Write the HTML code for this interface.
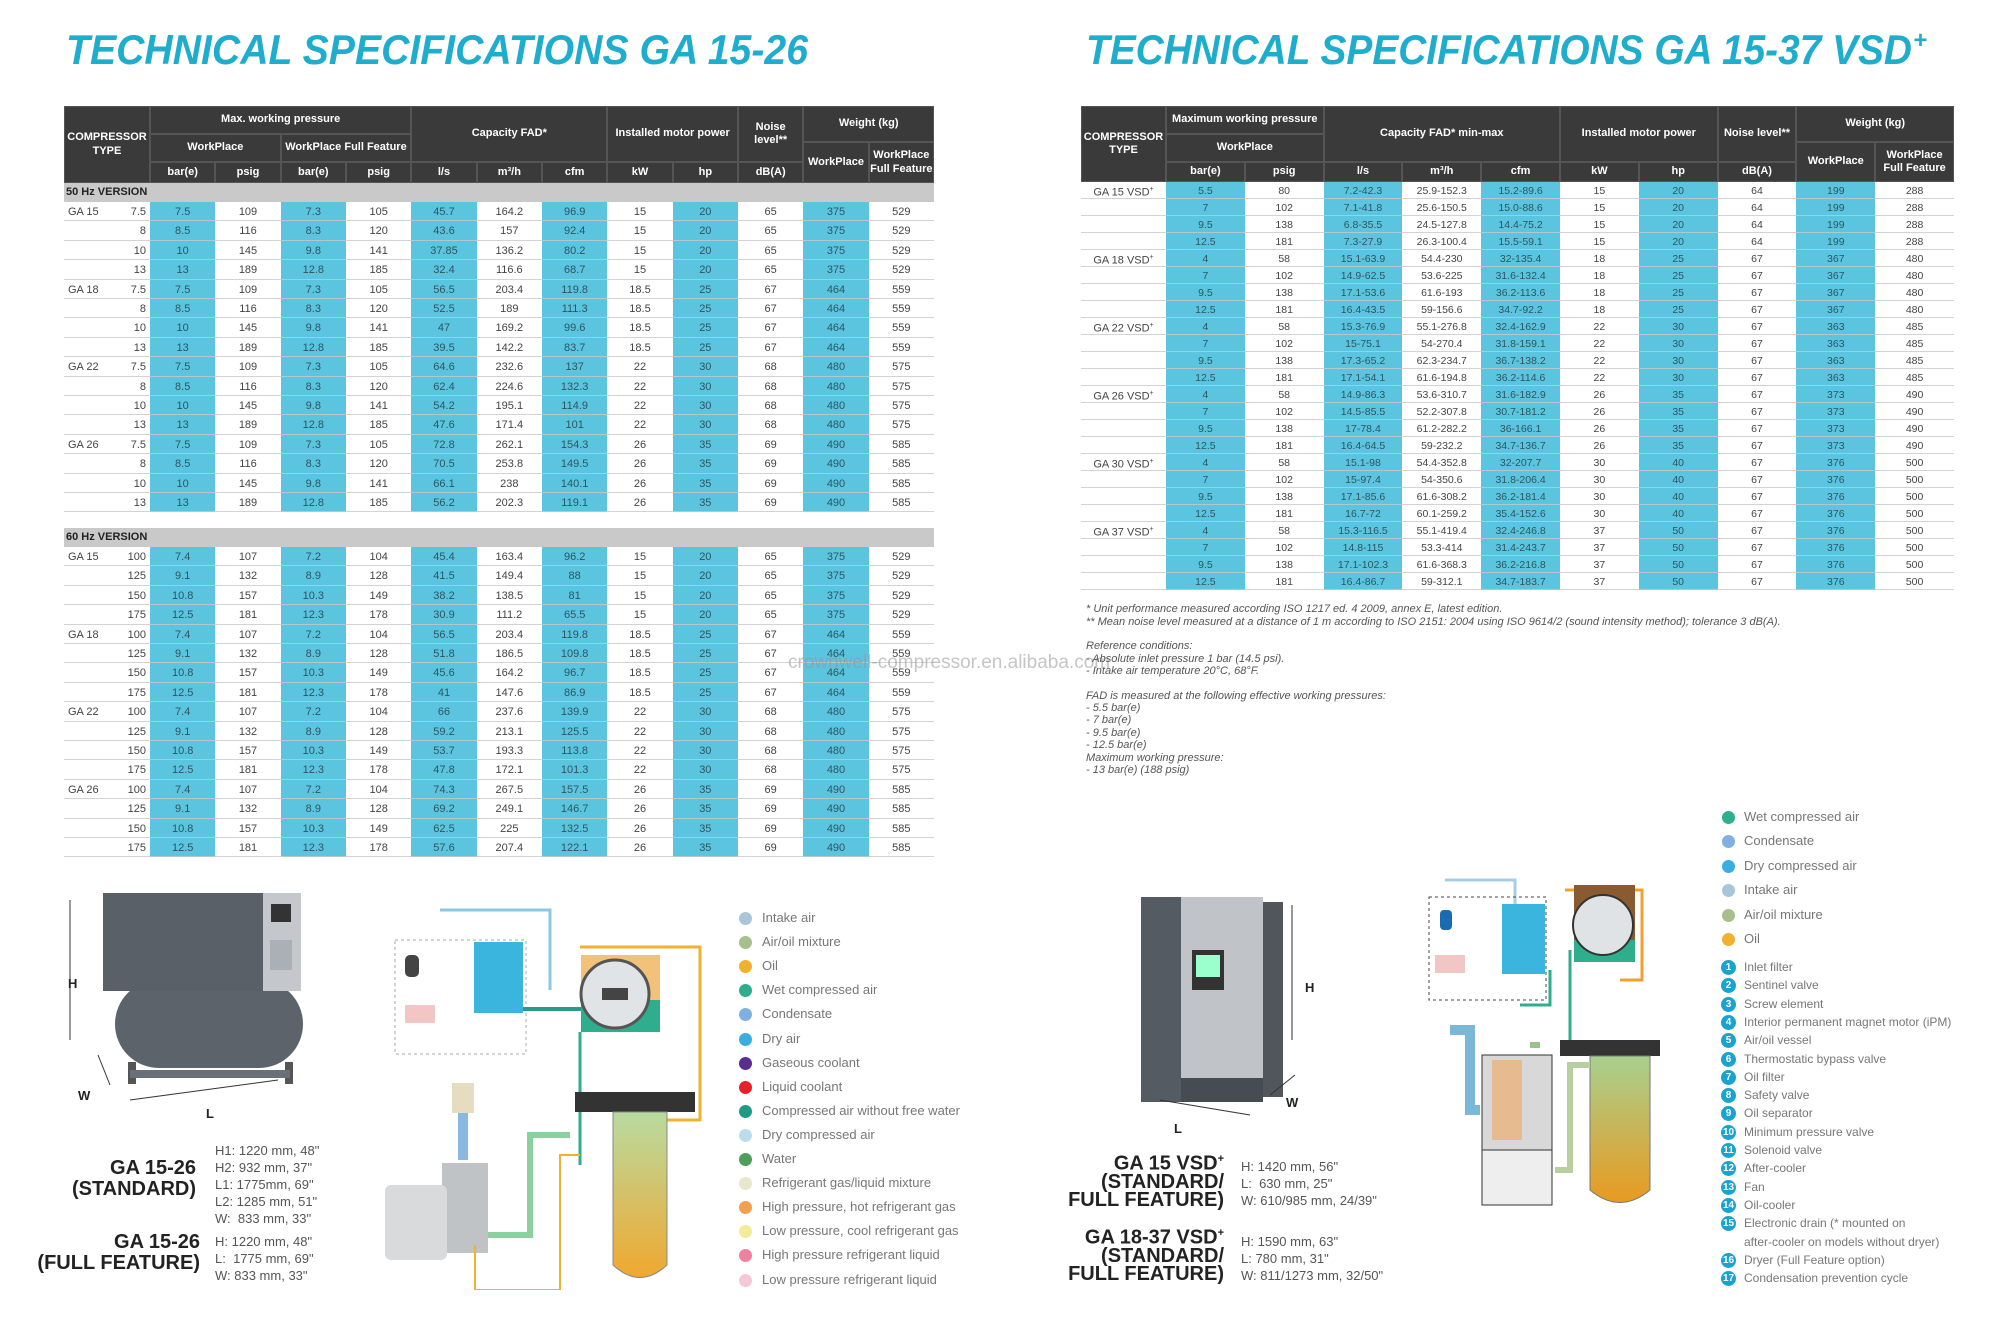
<!DOCTYPE html>
<html><head><meta charset="utf-8">
<style>
body{margin:0;background:#fff;}
#page{position:relative;width:2000px;height:1320px;overflow:hidden;background:#fff;font-family:"Liberation Sans",sans-serif;}
.a{position:absolute;}
.c{position:absolute;font-size:11px;color:#444;text-align:center;white-space:nowrap;line-height:1;}
.h{position:absolute;color:#fff;font-weight:bold;font-size:11px;text-align:center;display:flex;align-items:center;justify-content:center;line-height:1.2;box-sizing:border-box;}
.fn{position:absolute;left:1086px;font-size:11px;font-style:italic;color:#555;white-space:nowrap;}
.lg{position:absolute;font-size:13px;color:#777;white-space:nowrap;}
.dot{position:absolute;width:13px;height:13px;border-radius:50%;}
.num{position:absolute;width:15px;height:15px;border-radius:50%;background:#1aa3cf;color:#fff;font-size:10px;font-weight:bold;text-align:center;line-height:15px;}
.mdl{position:absolute;font-weight:bold;font-size:20px;color:#222;text-align:right;line-height:21px;}
.spec{position:absolute;font-size:13px;color:#555;line-height:17px;white-space:nowrap;}
</style></head>
<body>
<div id="page">
<svg class="a" style="left:0;top:0" width="2000" height="100">
<text x="66" y="64" textLength="742" lengthAdjust="spacingAndGlyphs" font-family="Liberation Sans" font-weight="bold" font-style="italic" font-size="42" fill="#1eadcc">TECHNICAL SPECIFICATIONS GA 15-26</text>
<text x="1086" y="64" textLength="826" lengthAdjust="spacingAndGlyphs" font-family="Liberation Sans" font-weight="bold" font-style="italic" font-size="42" fill="#1eadcc">TECHNICAL SPECIFICATIONS GA 15-37 VSD</text>
<text x="1913" y="48" font-family="Liberation Sans" font-weight="bold" font-style="italic" font-size="24" fill="#1eadcc">+</text>
</svg>
<div id="lt"></div>
<div id="rt"></div>

<div class="a" style="left:788px;top:652px;font-size:19px;color:rgba(150,150,150,0.55);">crowhwell-compressor.en.alibaba.com</div>

<div class="fn" style="top:603px">* Unit performance measured according ISO 1217 ed. 4 2009, annex E, latest edition.</div>
<div class="fn" style="top:616px">** Mean noise level measured at a distance of 1 m according to ISO 2151: 2004 using ISO 9614/2 (sound intensity method); tolerance 3 dB(A).</div>
<div class="fn" style="top:640px">Reference conditions:</div>
<div class="fn" style="top:653px">- Absolute inlet pressure 1 bar (14.5 psi).</div>
<div class="fn" style="top:665px">- Intake air temperature 20°C, 68°F.</div>
<div class="fn" style="top:690px">FAD is measured at the following effective working pressures:</div>
<div class="fn" style="top:702px">- 5.5 bar(e)</div>
<div class="fn" style="top:714px">- 7 bar(e)</div>
<div class="fn" style="top:727px">- 9.5 bar(e)</div>
<div class="fn" style="top:739px">- 12.5 bar(e)</div>
<div class="fn" style="top:752px">Maximum working pressure:</div>
<div class="fn" style="top:764px">- 13 bar(e) (188 psig)</div>

<!-- left compressor -->
<svg class="a" style="left:60px;top:880px" width="260" height="250">
<rect x="55" y="100" width="188" height="88" rx="44" fill="#5d636a"/>
<rect x="68" y="182" width="8" height="22" fill="#555"/><rect x="225" y="182" width="8" height="22" fill="#555"/>
<rect x="70" y="190" width="160" height="8" fill="#6a7077"/>
<rect x="43" y="13" width="160" height="98" fill="#5a6067"/>
<rect x="203" y="13" width="38" height="98" fill="#c4c8cc"/>
<rect x="211" y="24" width="20" height="18" fill="#333"/>
<rect x="210" y="60" width="22" height="30" fill="#aab0b5"/>
<line x1="10" y1="20" x2="10" y2="160" stroke="#333"/>
<line x1="38" y1="175" x2="50" y2="205" stroke="#333"/>
<line x1="70" y1="220" x2="218" y2="200" stroke="#333"/>
<text x="8" y="108" font-size="13" font-weight="bold" fill="#222">H</text>
<text x="18" y="220" font-size="13" font-weight="bold" fill="#222">W</text>
<text x="146" y="238" font-size="13" font-weight="bold" fill="#222">L</text>
</svg>
<div class="mdl" style="left:40px;top:1158px;width:156px">GA 15-26<br>(STANDARD)</div>
<div class="spec" style="left:215px;top:1142px">H1: 1220 mm, 48"<br>H2: 932 mm, 37"<br>L1: 1775mm, 69"<br>L2: 1285 mm, 51"<br>W: &nbsp;833 mm, 33"</div>
<div class="mdl" style="left:30px;top:1232px;width:170px">GA 15-26<br>(FULL FEATURE)</div>
<div class="spec" style="left:215px;top:1233px">H: 1220 mm, 48"<br>L: &nbsp;1775 mm, 69"<br>W: 833 mm, 33"</div>

<!-- left diagram -->
<svg class="a" style="left:380px;top:895px" width="330" height="395">
<path d="M60 15 H170 V95" stroke="#8cc8e0" stroke-width="3" fill="none"/>
<rect x="15" y="45" width="131" height="114" fill="none" stroke="#aaa" stroke-dasharray="3,3"/>
<rect x="94" y="47" width="49" height="71" fill="#39b5de"/>
<rect x="25" y="60" width="14" height="22" rx="5" fill="#444"/>
<rect x="25" y="110" width="30" height="18" fill="#f3c6c6"/>
<path d="M200 52 H320 V225 H285" stroke="#f0b030" stroke-width="3" fill="none"/>
<rect x="201" y="60" width="79" height="45" fill="#f3c27a"/>
<rect x="201" y="105" width="79" height="32" fill="#2fae8e"/>
<circle cx="235" cy="99" r="34" fill="#e0e4e6" stroke="#555" stroke-width="3"/>
<rect x="222" y="93" width="26" height="12" fill="#444"/>
<path d="M143 114 H201" stroke="#2a9a88" stroke-width="4"/>
<path d="M200 137 V270" stroke="#2fae8e" stroke-width="3" fill="none"/>
<rect x="195" y="197" width="120" height="20" fill="#333"/>
<defs><linearGradient id="vg" x1="0" y1="0" x2="0" y2="1"><stop offset="0" stop-color="#b8dba0"/><stop offset="1" stop-color="#f0a830"/></linearGradient>
<linearGradient id="vg2" x1="0" y1="0" x2="0" y2="1"><stop offset="0" stop-color="#a8d090"/><stop offset="1" stop-color="#e89a20"/></linearGradient></defs>
<path d="M233 217 H287 V370 Q260 395 233 370 Z" fill="url(#vg)" stroke="#888"/>
<rect x="72" y="188" width="22" height="30" fill="#e6dcc0"/>
<path d="M83 218 V265" stroke="#8ab8e0" stroke-width="10"/>
<rect x="62" y="268" width="46" height="90" fill="#bfc3c6"/>
<rect x="5" y="290" width="62" height="75" rx="6" fill="#d8dadc"/>
<path d="M108 340 H150 V240 H190" stroke="#8cd0a0" stroke-width="6" fill="none"/>
<path d="M95 350 V395 H180 V260 H200" stroke="#f0b030" stroke-width="2" fill="none"/>
</svg>

<!-- right compressor -->
<svg class="a" style="left:1120px;top:890px" width="210" height="250">
<rect x="21" y="7" width="40" height="205" fill="#555b62"/>
<rect x="61" y="7" width="82" height="205" fill="#c0c4c8"/>
<rect x="143" y="12" width="20" height="195" fill="#50565c"/>
<rect x="72" y="60" width="32" height="40" fill="#333"/>
<rect x="76" y="65" width="24" height="22" fill="#9fc"/>
<rect x="61" y="188" width="82" height="24" fill="#474c52"/>
<line x1="172" y1="15" x2="172" y2="150" stroke="#333"/>
<line x1="150" y1="205" x2="175" y2="185" stroke="#333"/>
<line x1="40" y1="210" x2="130" y2="225" stroke="#333"/>
<text x="185" y="102" font-size="13" font-weight="bold" fill="#222">H</text>
<text x="166" y="217" font-size="13" font-weight="bold" fill="#222">W</text>
<text x="54" y="243" font-size="13" font-weight="bold" fill="#222">L</text>
</svg>
<div class="mdl" style="left:1040px;top:1150px;width:184px;line-height:18px">GA 15 VSD<sup style="font-size:11px">+</sup><br>(STANDARD/<br>FULL FEATURE)</div>
<div class="spec" style="left:1241px;top:1158px">H: 1420 mm, 56"<br>L: &nbsp;630 mm, 25"<br>W: 610/985 mm, 24/39"</div>
<div class="mdl" style="left:1040px;top:1224px;width:184px;line-height:18px">GA 18-37 VSD<sup style="font-size:11px">+</sup><br>(STANDARD/<br>FULL FEATURE)</div>
<div class="spec" style="left:1241px;top:1233px">H: 1590 mm, 63"<br>L: 780 mm, 31"<br>W: 811/1273 mm, 32/50"</div>

<!-- right diagram -->
<svg class="a" style="left:1420px;top:870px" width="270" height="345">
<path d="M25 10 H95 V45" stroke="#a8cde0" stroke-width="3" fill="none"/>
<rect x="9" y="27" width="117" height="103" fill="none" stroke="#444" stroke-dasharray="3,3"/>
<rect x="82" y="34" width="43" height="70" fill="#39b5de"/>
<rect x="20" y="40" width="12" height="20" rx="4" fill="#1a6bb0"/>
<rect x="15" y="85" width="30" height="18" fill="#f3c6c6"/>
<path d="M145 20 H222 V110 H200" stroke="#f0a030" stroke-width="3" fill="none"/>
<rect x="154" y="15" width="61" height="55" fill="#8a5a30"/>
<rect x="154" y="70" width="61" height="22" fill="#2fae8e"/>
<circle cx="183" cy="55" r="30" fill="#dfe3e6" stroke="#333" stroke-width="2"/>
<path d="M130 100 V135 H100" stroke="#2fae8e" stroke-width="3" fill="none"/>
<path d="M150 80 V170" stroke="#2fae8e" stroke-width="3" fill="none"/>
<rect x="140" y="170" width="100" height="16" fill="#333"/>
<path d="M170 186 H230 V320 Q200 345 170 320 Z" fill="url(#vg2)" stroke="#777"/>
<path d="M110 175 H120" stroke="#9cc090" stroke-width="6"/>
<path d="M30 160 H50 V240 H60" stroke="#7ab8d8" stroke-width="10" fill="none"/>
<rect x="62" y="185" width="70" height="95" fill="#d8d8d8" stroke="#333"/>
<rect x="72" y="190" width="30" height="80" fill="#f0a860" opacity="0.6"/>
<rect x="62" y="280" width="70" height="55" fill="#eee" stroke="#333"/>
<path d="M135 300 H150 V195 H170" stroke="#b8d0a0" stroke-width="6" fill="none"/>
</svg>

<div id="legends"></div>
</div>

<script>
// ---------- LEFT TABLE DATA ----------
const leftModels = ["GA 15","GA 18","GA 22","GA 26"];
const left50Pressure = ["7.5","8","10","13"];
const left50Bar = ["7.5","8.5","10","13"];
const left50Psig = ["109","116","145","189"];
const left50BarFF = ["7.3","8.3","9.8","12.8"];
const left50PsigFF = ["105","120","141","185"];
const left60Pressure = ["100","125","150","175"];
const left60Bar = ["7.4","9.1","10.8","12.5"];
const left60Psig = ["107","132","157","181"];
const left60BarFF = ["7.2","8.9","10.3","12.3"];
const left60PsigFF = ["104","128","149","178"];
const leftKw = ["15","18.5","22","26"];
const leftHp = ["20","25","30","35"];
const leftDb = ["65","67","68","69"];
const leftWp = ["375","464","480","490"];
const leftWpff = ["529","559","575","585"];
const left50Ls = [["45.7","43.6","37.85","32.4"],["56.5","52.5","47","39.5"],["64.6","62.4","54.2","47.6"],["72.8","70.5","66.1","56.2"]];
const left50M3h = [["164.2","157","136.2","116.6"],["203.4","189","169.2","142.2"],["232.6","224.6","195.1","171.4"],["262.1","253.8","238","202.3"]];
const left50Cfm = [["96.9","92.4","80.2","68.7"],["119.8","111.3","99.6","83.7"],["137","132.3","114.9","101"],["154.3","149.5","140.1","119.1"]];
const left60Ls = [["45.4","41.5","38.2","30.9"],["56.5","51.8","45.6","41"],["66","59.2","53.7","47.8"],["74.3","69.2","62.5","57.6"]];
const left60M3h = [["163.4","149.4","138.5","111.2"],["203.4","186.5","164.2","147.6"],["237.6","213.1","193.3","172.1"],["267.5","249.1","225","207.4"]];
const left60Cfm = [["96.2","88","81","65.5"],["119.8","109.8","96.7","86.9"],["139.9","125.5","113.8","101.3"],["157.5","146.7","132.5","122.1"]];

// ---------- RIGHT TABLE DATA ----------
const rightModels = ["GA 15 VSD+","GA 18 VSD+","GA 22 VSD+","GA 26 VSD+","GA 30 VSD+","GA 37 VSD+"];
const rightBar = [["5.5","7","9.5","12.5"],["4","7","9.5","12.5"],["4","7","9.5","12.5"],["4","7","9.5","12.5"],["4","7","9.5","12.5"],["4","7","9.5","12.5"]];
const rightPsig = [["80","102","138","181"],["58","102","138","181"],["58","102","138","181"],["58","102","138","181"],["58","102","138","181"],["58","102","138","181"]];
const rightLs = [["7.2-42.3","7.1-41.8","6.8-35.5","7.3-27.9"],["15.1-63.9","14.9-62.5","17.1-53.6","16.4-43.5"],["15.3-76.9","15-75.1","17.3-65.2","17.1-54.1"],["14.9-86.3","14.5-85.5","17-78.4","16.4-64.5"],["15.1-98","15-97.4","17.1-85.6","16.7-72"],["15.3-116.5","14.8-115","17.1-102.3","16.4-86.7"]];
const rightM3h = [["25.9-152.3","25.6-150.5","24.5-127.8","26.3-100.4"],["54.4-230","53.6-225","61.6-193","59-156.6"],["55.1-276.8","54-270.4","62.3-234.7","61.6-194.8"],["53.6-310.7","52.2-307.8","61.2-282.2","59-232.2"],["54.4-352.8","54-350.6","61.6-308.2","60.1-259.2"],["55.1-419.4","53.3-414","61.6-368.3","59-312.1"]];
const rightCfm = [["15.2-89.6","15.0-88.6","14.4-75.2","15.5-59.1"],["32-135.4","31.6-132.4","36.2-113.6","34.7-92.2"],["32.4-162.9","31.8-159.1","36.7-138.2","36.2-114.6"],["31.6-182.9","30.7-181.2","36-166.1","34.7-136.7"],["32-207.7","31.8-206.4","36.2-181.4","35.4-152.6"],["32.4-246.8","31.4-243.7","36.2-216.8","34.7-183.7"]];
const rightKw = ["15","18","22","26","30","37"];
const rightHp = ["20","25","30","35","40","50"];
const rightDb = ["64","67","67","67","67","67"];
const rightWp = ["199","367","363","373","376","376"];
const rightWpff = ["288","480","485","490","500","500"];

// ---------- LEGENDS ----------
const leftLegendLabels = ["Intake air","Air/oil mixture","Oil","Wet compressed air","Condensate","Dry air","Gaseous coolant","Liquid coolant","Compressed air without free water","Dry compressed air","Water","Refrigerant gas/liquid mixture","High pressure, hot refrigerant gas","Low pressure, cool refrigerant gas","High pressure refrigerant liquid","Low pressure refrigerant liquid"];
const leftLegendColors = ["#a9c6d8","#a6bf8c","#f0b030","#2fae8e","#7fb0e0","#3aaee0","#5b2d90","#e8202a","#1f9a86","#bcdcec","#4c9e5a","#e8e6cc","#f0a050","#f2ec98","#f080a0","#f5c8d8"];
const rightLegendLabels = ["Wet compressed air","Condensate","Dry compressed air","Intake air","Air/oil mixture","Oil"];
const rightLegendColors = ["#2fae8e","#7fb0e0","#3aaee0","#a9c6d8","#a6bf8c","#f0b030"];
const partLabels = ["Inlet filter","Sentinel valve","Screw element","Interior permanent magnet motor (iPM)","Air/oil vessel","Thermostatic bypass valve","Oil filter","Safety valve","Oil separator","Minimum pressure valve","Solenoid valve","After-cooler","Fan","Oil-cooler","Electronic drain (* mounted on","Dryer (Full Feature option)","Condensation prevention cycle"];

const CYAN="#5bc5e0", DARK="#3a3a3a";
function mk(parent,cls,l,t,w,h,bg,txt){
  const d=document.createElement('div');
  d.className=cls; d.style.left=l+'px'; d.style.top=t+'px';
  if(w!=null) d.style.width=w+'px';
  if(h!=null) d.style.height=h+'px';
  if(bg) d.style.background=bg;
  if(txt!=null) d.innerHTML=txt;
  parent.appendChild(d); return d;
}

// ===== LEFT TABLE =====
(function(){
  const host=document.getElementById('lt');
  const X0=64, TW=86, XR=934, CW=(XR-150)/12;
  const cx=i=>150+i*CW;
  const cyanCols=[0,2,4,6,8,10];
  const hb=mk(host,'a',X0,106,XR-X0,77,DARK);
  
  
  const hd=(l,t,w,h,txt,name)=>{const e=mk(host,'h',l,t,w,h,null,txt);e.style.border='1px solid #555';return e;};
  hd(X0,106,TW,77,'COMPRESSOR<br>TYPE','header-compressor-type');
  hd(cx(0),106,CW*4,28,'Max. working pressure','header-max-pressure');
  hd(cx(0),134,CW*2,28,'WorkPlace','header-workplace');
  hd(cx(2),134,CW*2,28,'WorkPlace Full Feature','header-workplace-ff');
  hd(cx(4),106,CW*3,56,'Capacity FAD*','header-capacity');
  hd(cx(7),106,CW*2,56,'Installed motor power','header-motor-power');
  hd(cx(9),106,CW,56,'Noise<br>level**','header-noise');
  hd(cx(10),106,CW*2,36,'Weight (kg)','header-weight');
  hd(cx(10),142,CW,41,'WorkPlace','header-weight-workplace');
  hd(cx(11),142,CW,41,'WorkPlace<br>Full Feature','header-weight-ff');
  const units=['bar(e)','psig','bar(e)','psig','l/s','m³/h','cfm','kW','hp','dB(A)'];
  units.forEach((u,i)=>{hd(cx(i),162,CW,21,u,'unit-'+i);});
  function section(y0,label,press,bar,psig,barff,psigff,ls,m3,cfm,nm){
    const band=mk(host,'a',X0,y0,XR-X0,19,'#c9c9c9');
    
    
    const bl=mk(host,'c',X0+2,y0+4,null,null,null,label);bl.style.fontWeight='bold';bl.style.color='#222';
    const ry=y0+19, RH=19.4;
    cyanCols.forEach(c=>{mk(host,'a',cx(c),ry,CW,RH*16,CYAN);});
    for(let m=0;m<4;m++)for(let p=0;p<4;p++){
      const r=m*4+p, y=ry+r*RH;
      const row=mk(host,'a',X0,y,XR-X0,RH,null);
      row.style.borderBottom='1px solid rgba(200,200,200,0.8)';row.style.boxSizing='border-box';
      
      
      if(p===0) mk(host,'c',X0+4,y+5,null,null,null,leftModels[m]);
      const pv=mk(host,'c',X0,y+5,TW-4,null,null,press[p]);pv.style.textAlign='right';
      const vals=[bar[p],psig[p],barff[p],psigff[p],ls[m][p],m3[m][p],cfm[m][p],leftKw[m],leftHp[m],leftDb[m],leftWp[m],leftWpff[m]];
      vals.forEach((v,i)=>{const e=mk(host,'c',cx(i),y+5,CW,null,null,v);if(cyanCols.includes(i))e.style.color='#2d5560';});
    }
  }
  section(183,'50 Hz VERSION',left50Pressure,left50Bar,left50Psig,left50BarFF,left50PsigFF,left50Ls,left50M3h,left50Cfm,'50hz');
  section(528,'60 Hz VERSION',left60Pressure,left60Bar,left60Psig,left60BarFF,left60PsigFF,left60Ls,left60M3h,left60Cfm,'60hz');
})();

// ===== RIGHT TABLE =====
(function(){
  const host=document.getElementById('rt');
  const X0=1081, TW=85, XR=1954, CW=(XR-X0-TW)/10;
  const cx=i=>X0+TW+i*CW;
  const cyanCols=[0,2,4,6,8];
  mk(host,'a',X0,106,XR-X0,76,DARK);
  const hd=(l,t,w,h,txt,name)=>{const e=mk(host,'h',l,t,w,h,null,txt);e.style.border='1px solid #555';return e;};
  hd(X0,106,TW,76,'COMPRESSOR<br>TYPE','vsd-header-type');
  hd(cx(0),106,CW*2,28,'Maximum working pressure','vsd-header-pressure');
  hd(cx(0),134,CW*2,28,'WorkPlace','vsd-header-workplace');
  hd(cx(2),106,CW*3,56,'Capacity FAD* min-max','vsd-header-capacity');
  hd(cx(5),106,CW*2,56,'Installed motor power','vsd-header-motor');
  hd(cx(7),106,CW,56,'Noise level**','vsd-header-noise');
  hd(cx(8),106,CW*2,36,'Weight (kg)','vsd-header-weight');
  hd(cx(8),142,CW,40,'WorkPlace','vsd-header-weight-wp');
  hd(cx(9),142,CW,40,'WorkPlace<br>Full Feature','vsd-header-weight-ff');
  ['bar(e)','psig','l/s','m³/h','cfm','kW','hp','dB(A)'].forEach((u,i)=>hd(cx(i),162,CW,20,u,'vsd-unit-'+i));
  const ry=182, RH=17.0;
  cyanCols.forEach(c=>mk(host,'a',cx(c),ry,CW,RH*24,CYAN));
  for(let m=0;m<6;m++)for(let p=0;p<4;p++){
    const r=m*4+p, y=ry+r*RH;
    const row=mk(host,'a',X0,y,XR-X0,RH,null);
    row.style.borderBottom='1px solid rgba(200,200,200,0.8)';row.style.boxSizing='border-box';
    
    
    if(p===0) mk(host,'c',X0,y+4,TW,null,null,rightModels[m].replace('+','<sup style="font-size:7px">+</sup>'));
    const vals=[rightBar[m][p],rightPsig[m][p],rightLs[m][p],rightM3h[m][p],rightCfm[m][p],rightKw[m],rightHp[m],rightDb[m],rightWp[m],rightWpff[m]];
    vals.forEach((v,i)=>{const e=mk(host,'c',cx(i),y+4,CW,null,null,v);e.style.fontSize='10.5px';if(cyanCols.includes(i))e.style.color='#2d5560';});
  }
})();

// ===== LEGENDS =====
(function(){
  const host=document.getElementById('legends');
  leftLegendLabels.forEach((t,i)=>{
    const y=918+i*24.1;
    mk(host,'dot',739,y-6,null,null,leftLegendColors[i]);
    const e=mk(host,'lg',762,y-8,null,null,null,t);
    
    
  });
  rightLegendLabels.forEach((t,i)=>{
    const y=817+i*24.4;
    mk(host,'dot',1722,y-6,null,null,rightLegendColors[i]);
    const e=mk(host,'lg',1744,y-8,null,null,null,t);
    
    
  });
  partLabels.forEach((t,i)=>{
    const y=967+(i<15?i:i+1)*18.3;
    mk(host,'num',1721,y-7,null,null,null,String(i+1));
    const e=mk(host,'lg',1744,y-7,null,null,null,t);
    e.style.fontSize='12px';
    
    
  });
  const c=mk(host,'lg',1744,967+15*18.3-7,null,null,null,'after-cooler on models without dryer)');c.style.fontSize='12px';
})();
</script>
</body></html>
